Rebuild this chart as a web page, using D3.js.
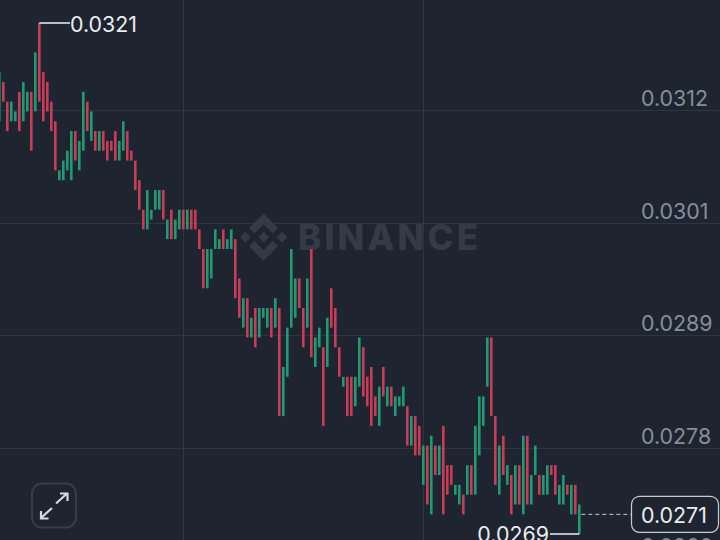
<!DOCTYPE html>
<meta charset="utf-8">
<script src="https://d3js.org/d3.v7.min.js"></script>
<style type="text/css">
    html, body {
        margin: 0;
        padding: 0;
        background: #1e2530;
        overflow: hidden;
    }

    text {
        font-family: "Inter", "Noto Sans", sans-serif;
    }

    .grid line {
        stroke: #2f3641;
        stroke-width: 1;
        shape-rendering: crispEdges;
    }

    .axis text {
        fill: #848e9c;
        font-size: 21.4px;
        font-family: "Inter", "Noto Sans", sans-serif;
    }

    .marker {
        fill: #eaecef;
        font-size: 21.4px;
    }
</style>

<body>
<script>
    // each bar, left to right, in 0.0001 steps
    var highs = [
        0.0316, 0.0315, 0.0313, 0.0313, 0.0312, 0.0314, 0.0315, 0.0314, 0.0314, 0.0318,
        0.0321, 0.0316, 0.0315, 0.0313, 0.0311, 0.0306, 0.0307, 0.0308, 0.0310, 0.0310,
        0.0309, 0.0314, 0.0313, 0.0312, 0.0310, 0.0310, 0.0310, 0.0309, 0.0309, 0.0310,
        0.0309, 0.0311, 0.0310, 0.0308, 0.0307, 0.0305, 0.0302, 0.0304, 0.0302, 0.0304,
        0.0304, 0.0304, 0.0301, 0.0302, 0.0301, 0.0302, 0.0302, 0.0302, 0.0302, 0.0302,
        0.0300, 0.0298, 0.0298, 0.0298, 0.0300, 0.0299, 0.0300, 0.0299, 0.0300, 0.0299,
        0.0295, 0.0293, 0.0293, 0.0291, 0.0292, 0.0292, 0.0292, 0.0292, 0.0292, 0.0293,
        0.0292, 0.0286, 0.0290, 0.0298, 0.0295, 0.0295, 0.0292, 0.0295, 0.0298, 0.0289,
        0.0290, 0.0288, 0.0291, 0.0294, 0.0292, 0.0288, 0.0285, 0.0285, 0.0285, 0.0285,
        0.0289, 0.0288, 0.0285, 0.0286, 0.0283, 0.0284, 0.0286, 0.0284, 0.0284, 0.0283,
        0.0283, 0.0284, 0.0282, 0.0281, 0.0281, 0.0280, 0.0278, 0.0278, 0.0279, 0.0278,
        0.0278, 0.0280, 0.0276, 0.0276, 0.0274, 0.0274, 0.0273, 0.0276, 0.0276, 0.0280,
        0.0283, 0.0283, 0.0289, 0.0289, 0.0281, 0.0278, 0.0279, 0.0276, 0.0275, 0.0276,
        0.0276, 0.0279, 0.0279, 0.0275, 0.0278, 0.0275, 0.0275, 0.0276, 0.0276, 0.0276,
        0.0274, 0.0275, 0.0274, 0.0274, 0.0274, 0.0272
    ];
    var lows = [
        0.0311, 0.0313, 0.0310, 0.0311, 0.0311, 0.0310, 0.0311, 0.0312, 0.0308, 0.0312,
        0.0313, 0.0311, 0.0312, 0.0310, 0.0306, 0.0305, 0.0305, 0.0306, 0.0305, 0.0307,
        0.0306, 0.0308, 0.0310, 0.0309, 0.0308, 0.0308, 0.0308, 0.0307, 0.0308, 0.0307,
        0.0307, 0.0308, 0.0307, 0.0307, 0.0304, 0.0302, 0.0300, 0.0300, 0.0301, 0.0302,
        0.0302, 0.0301, 0.0299, 0.0299, 0.0299, 0.0300, 0.0300, 0.0300, 0.0300, 0.0300,
        0.0298, 0.0294, 0.0294, 0.0295, 0.0298, 0.0298, 0.0298, 0.0298, 0.0298, 0.0293,
        0.0291, 0.0290, 0.0289, 0.0289, 0.0288, 0.0289, 0.0291, 0.0290, 0.0289, 0.0290,
        0.0281, 0.0281, 0.0285, 0.0290, 0.0291, 0.0292, 0.0288, 0.0290, 0.0287, 0.0286,
        0.0288, 0.0280, 0.0286, 0.0290, 0.0288, 0.0285, 0.0284, 0.0281, 0.0281, 0.0282,
        0.0284, 0.0283, 0.0282, 0.0280, 0.0281, 0.0280, 0.0283, 0.0282, 0.0282, 0.0281,
        0.0282, 0.0282, 0.0278, 0.0278, 0.0277, 0.0277, 0.0274, 0.0272, 0.0271, 0.0275,
        0.0275, 0.0271, 0.0273, 0.0274, 0.0273, 0.0272, 0.0271, 0.0273, 0.0273, 0.0273,
        0.0277, 0.0280, 0.0284, 0.0281, 0.0274, 0.0273, 0.0275, 0.0274, 0.0271, 0.0272,
        0.0272, 0.0271, 0.0272, 0.0272, 0.0275, 0.0273, 0.0273, 0.0273, 0.0275, 0.0273,
        0.0272, 0.0272, 0.0273, 0.0271, 0.0271, 0.0269
    ];
    // 1 = green bar, 0 = red bar
    var rising = [
        1, 0, 0, 1, 1, 0, 1, 1, 0, 1,
        0, 0, 0, 0, 0, 1, 1, 1, 1, 0,
        1, 1, 0, 1, 0, 1, 0, 0, 0, 0,
        1, 1, 0, 0, 0, 0, 0, 1, 1, 1,
        1, 0, 1, 0, 1, 1, 0, 1, 0, 0,
        0, 0, 1, 1, 1, 1, 0, 1, 1, 0,
        0, 1, 0, 1, 0, 1, 1, 1, 0, 1,
        0, 1, 1, 1, 1, 0, 0, 1, 0, 1,
        1, 0, 1, 0, 0, 0, 1, 0, 0, 1,
        1, 0, 0, 0, 0, 1, 0, 1, 0, 1,
        1, 1, 0, 1, 0, 0, 1, 0, 1, 0,
        1, 0, 0, 0, 1, 1, 0, 1, 0, 1,
        1, 1, 1, 0, 0, 1, 0, 1, 0, 1,
        0, 1, 0, 1, 1, 0, 1, 1, 0, 0,
        1, 1, 0, 1, 0, 1
    ];
    var priceTicks = [0.03121, 0.03006, 0.02892, 0.02777, 0.02665];
    var priceLabels = ["0.0312", "0.0301", "0.0289", "0.0278", "0.0266"];
    var timeTicks = [46, 106];
    var highLabel = 0.0321, lowLabel = 0.0269, lastPrice = 0.0271;

    var width = 720, height = 540;
    var green = "#1f9a73", red = "#c93c57";

    var xScale = d3.scaleLinear().domain([0, 145]).range([-0.7, 579.3]),
        yScale = d3.scaleLinear().domain([highLabel, lowLabel]).range([23, 534]);

    var fmt = d3.format(".4f");

    var svg = d3.select("body")
        .append("svg")
        .attr("width", width)
        .attr("height", height)
        .style("display", "block");

    // grid
    var grid = svg.append("g").attr("class", "grid");
    grid.selectAll(".h")
        .data(priceTicks)
        .enter()
        .append("line")
        .attr("x1", 0)
        .attr("x2", width)
        .attr("y1", function(d){ return yScale(d); })
        .attr("y2", function(d){ return yScale(d); });
    grid.selectAll(".v")
        .data(timeTicks)
        .enter()
        .append("line")
        .attr("x1", function(d){ return xScale(d); })
        .attr("x2", function(d){ return xScale(d); })
        .attr("y1", 0)
        .attr("y2", height);

    // watermark
    var mark = svg.append("g").style("fill", "#343b47");
    mark.append("path")
        .attr("transform", "translate(240,213.5) scale(0.374)")
        .attr("d", "M38.73 53.2L63.3 28.63l24.59 24.58 14.3-14.3L63.3 0 24.43 38.9z M0 63.3l14.3-14.3 14.3 14.3-14.3 14.3z M38.73 73.41L63.3 97.98l24.59-24.58 14.31 14.29L63.3 126.6 24.43 87.74z M97.99 63.31l14.3-14.3 14.31 14.3-14.3 14.3z M77.83 63.3L63.3 48.78 48.75 63.32 63.3 77.86z");
    mark.append("text")
        .attr("x", 298)
        .attr("y", 249.5)
        .attr("textLength", 180)
        .attr("lengthAdjust", "spacing")
        .style("font-size", "35px")
        .style("font-weight", 800)
        .text("BINANCE");

    // bars
    svg.selectAll(".bar")
        .data(highs)
        .enter()
        .append("rect")
        .attr("class", "bar")
        .attr("x", function(d, i){ return xScale(i) - 1.3; })
        .attr("y", function(d){ return yScale(d); })
        .attr("width", 2.6)
        .attr("height", function(d, i){ return yScale(lows[i]) - yScale(d); })
        .style("fill", function(d, i){ return rising[i] ? green : red; });

    // price labels
    var axis = svg.append("g")
        .attr("class", "axis")
        .attr("transform", "translate(641,-12)")
        .call(d3.axisRight(yScale)
            .tickValues(priceTicks)
            .tickSize(0)
            .tickPadding(0)
            .tickFormat(function(d, i){ return priceLabels[i]; }));
    axis.select(".domain").remove();

    // high and low markers
    var iHigh = highs.indexOf(highLabel),
        iLow = lows.indexOf(lowLabel);

    svg.append("line")
        .attr("x1", xScale(iHigh))
        .attr("x2", 70)
        .attr("y1", yScale(highLabel))
        .attr("y2", yScale(highLabel))
        .style("stroke", "#f0f1f3")
        .style("stroke-width", 1.5);
    svg.append("text")
        .attr("class", "marker")
        .attr("x", 70)
        .attr("y", yScale(highLabel) + 2)
        .attr("dy", "0.35em")
        .text(fmt(highLabel));

    svg.append("line")
        .attr("x1", xScale(iLow))
        .attr("x2", 550)
        .attr("y1", yScale(lowLabel))
        .attr("y2", yScale(lowLabel))
        .style("stroke", "#f0f1f3")
        .style("stroke-width", 1.5);
    svg.append("text")
        .attr("class", "marker")
        .attr("x", 549)
        .attr("y", yScale(lowLabel) + 1)
        .attr("dy", "0.35em")
        .attr("text-anchor", "end")
        .text(fmt(lowLabel));

    // last price
    svg.append("line")
        .attr("x1", xScale(145) + 2)
        .attr("x2", 632)
        .attr("y1", yScale(lastPrice))
        .attr("y2", yScale(lastPrice))
        .style("stroke", "#c7cbd0")
        .style("stroke-width", 1)
        .style("stroke-dasharray", "4,3");
    svg.append("rect")
        .attr("x", 631.5)
        .attr("y", yScale(lastPrice) - 18)
        .attr("width", 87)
        .attr("height", 36)
        .attr("rx", 8)
        .style("fill", "#1e2530")
        .style("stroke", "#c7cbd0")
        .style("stroke-width", 1.2);
    svg.append("text")
        .attr("class", "marker")
        .attr("x", 641)
        .attr("y", yScale(lastPrice) + 1)
        .attr("dy", "0.35em")
        .text(fmt(lastPrice));

    // expand button
    var button = svg.append("g");
    button.append("rect")
        .attr("x", 32)
        .attr("y", 483.5)
        .attr("width", 44)
        .attr("height", 44)
        .attr("rx", 10)
        .style("fill", "none")
        .style("stroke", "#363c48")
        .style("stroke-width", 2);
    button.append("path")
        .attr("d", "M56 503.5L67 493.5M60 493.5H67.5V501 M52 508L41 518M48.5 518.5H41V511")
        .style("fill", "none")
        .style("stroke", "#d5d8dc")
        .style("stroke-width", 2.2);
</script>
</body>
